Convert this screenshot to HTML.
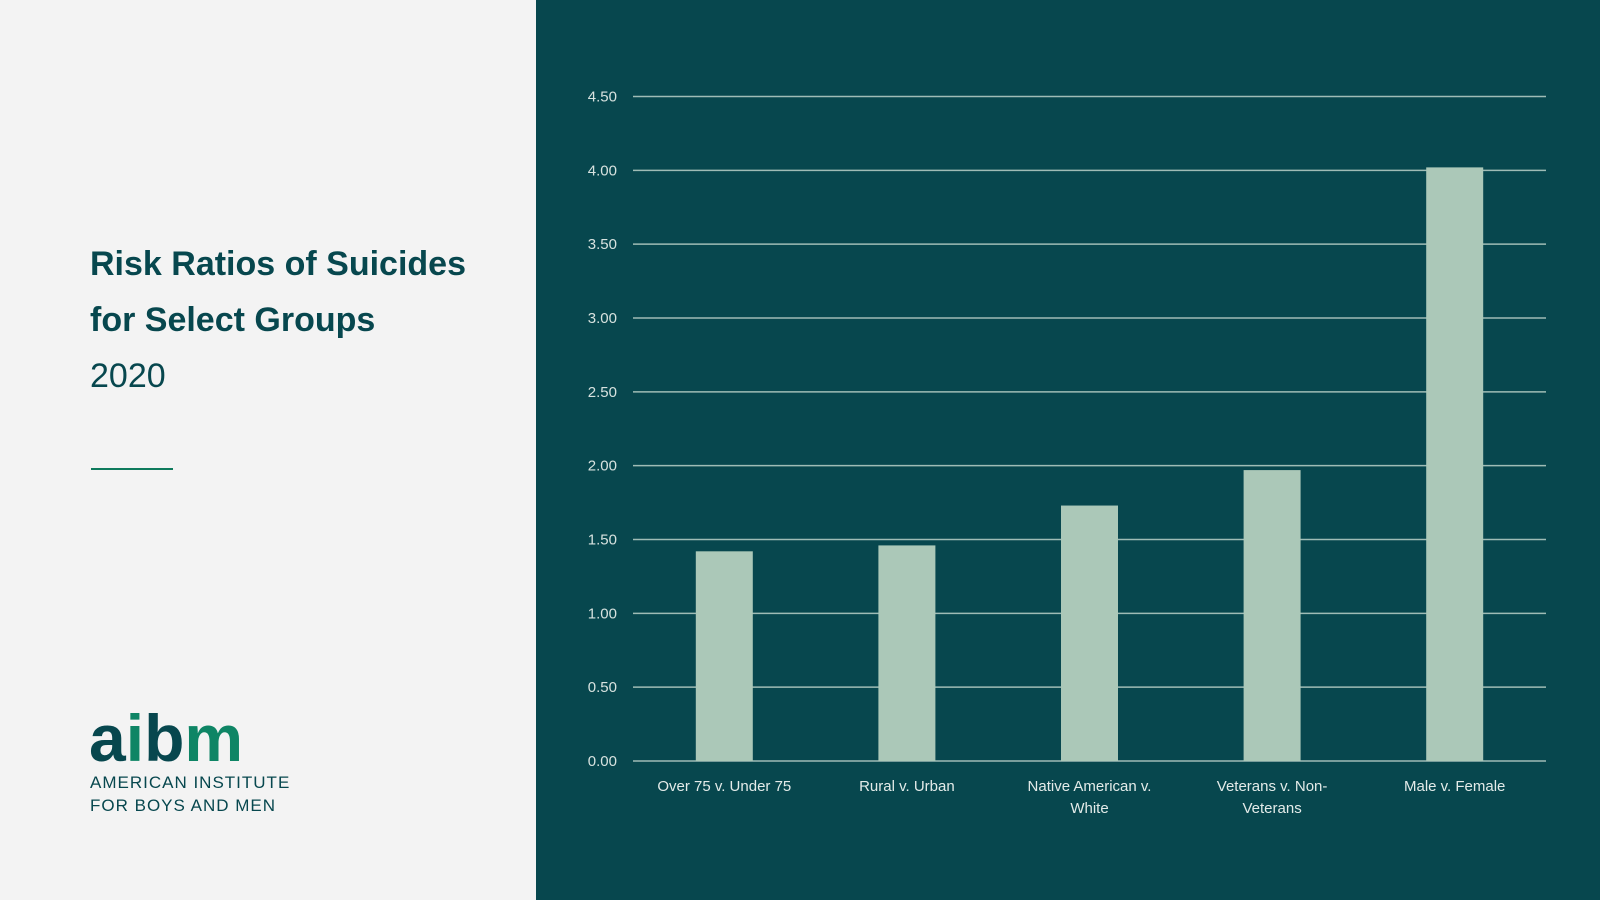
<!DOCTYPE html>
<html><head><meta charset="utf-8"><style>
body{margin:0;width:1600px;height:900px;overflow:hidden;font-family:"Liberation Sans",sans-serif}
#left{position:absolute;left:0;top:0;width:536px;height:900px;background:#f3f3f3}
#right{position:absolute;left:536px;top:0;width:1064px;height:900px;background:#07474e}
.t{position:absolute;left:90px;color:#07474e;font-size:34px;white-space:nowrap}
</style></head><body>
<div id="left">
<div class="t" style="top:245px;font-weight:bold">Risk Ratios of Suicides</div>
<div class="t" style="top:301px;font-weight:bold">for Select Groups</div>
<div class="t" style="top:357px">2020</div>
<div style="position:absolute;left:91px;top:468px;width:82px;height:2px;background:#0e7a5c"></div>
<div style="position:absolute;left:89px;top:702px;font-size:66px;font-weight:bold;letter-spacing:0px;line-height:72px"><span style="color:#07474e">a</span><span style="color:#0e8565">i</span><span style="color:#07474e">b</span><span style="color:#0e8565">m</span></div>
<div style="position:absolute;left:90px;top:771px;font-size:17px;letter-spacing:1px;color:#07474e;line-height:23px">AMERICAN INSTITUTE<br>FOR BOYS AND MEN</div>
</div>
<div id="right"></div>
<svg id="chart" width="1600" height="900" style="position:absolute;left:0;top:0"></svg>
<script>
const categories=[["Over 75 v. Under 75"],["Rural v. Urban"],["Native American v.","White"],["Veterans v. Non-","Veterans"],["Male v. Female"]];
const values=[1.42,1.46,1.73,1.97,4.02];
const ticks=[0,0.5,1,1.5,2,2.5,3,3.5,4,4.5];
const tickLabels=["0.00","0.50","1.00","1.50","2.00","2.50","3.00","3.50","4.00","4.50"];
const svg=document.getElementById('chart');const NS='http://www.w3.org/2000/svg';
const x0=633,x1=1546,y0=761,y1=96.5,ymax=4.5;
const band=(x1-x0)/categories.length;
function y(v){return y0-(v/ymax)*(y0-y1);}
function xc(i){return x0+band*(i+0.5);}
function mk(t,a){const e=document.createElementNS(NS,t);for(const k in a)e.setAttribute(k,a[k]);svg.appendChild(e);return e;}
ticks.forEach((t,i)=>{
 const l=mk('line',{x1:x0,x2:x1,y1:y(t),y2:y(t),stroke:'#9fbcb6','stroke-width':1.5});
 
 
 const tx=mk('text',{x:617,y:y(t)+5,'text-anchor':'end',fill:'#d7e2df','font-size':15,'font-family':'Liberation Sans, sans-serif'});
 tx.textContent=tickLabels[i];
 
 
});
values.forEach((v,i)=>{
 const r=mk('rect',{x:xc(i)-28.5,width:57,y:y(v),height:y0-y(v),fill:'#abc8b8'});
 
 
 categories[i].forEach((s,j)=>{
  const tx=mk('text',{x:xc(i),y:791+j*22,'text-anchor':'middle',fill:'#e3ebe9','font-size':15,'font-family':'Liberation Sans, sans-serif'});
  tx.textContent=s;
  
  
 });
});
</script>
</body></html>
